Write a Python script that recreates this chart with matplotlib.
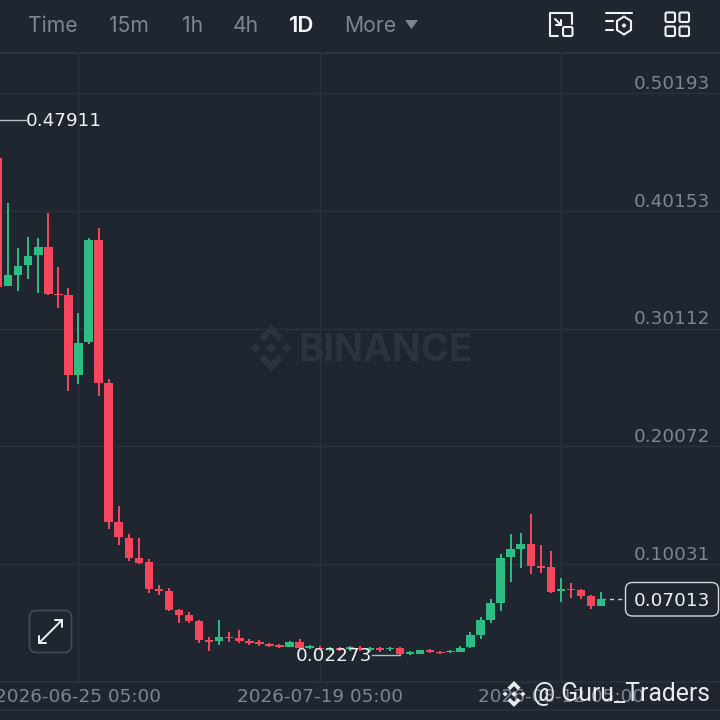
import matplotlib
matplotlib.use("Agg")
import matplotlib.pyplot as plt
import matplotlib.dates as mdates
from matplotlib.patches import FancyBboxPatch, Polygon
import pandas as pd

plt.rcParams['font.family'] = ['Inter', 'DejaVu Sans']
NUM_FONT = ['DejaVu Sans']

dates = pd.date_range('2026-06-17', periods=61)
opens = [0.4469,0.3374,0.3468,0.3554,0.3639,0.3707,0.3309,0.3298,0.2615,0.2897,0.3767,0.2550,0.1361,0.1227,0.1054,0.1020,
         0.0792,0.0773,0.0611,0.0565,0.0519,0.0355,0.0346,0.0383,0.0374,0.0346,0.0338,0.0321,0.0310,0.0298,0.0340,0.0289,
         0.0289,0.0278,0.0284,0.0278,0.0287,0.0272,0.0284,0.0278,0.0287,0.0235,0.0238,0.0267,0.0255,0.0252,0.0255,0.0292,
         0.0400,0.0523,0.0671,0.1060,0.1131,0.1174,0.0983,0.0975,0.0775,0.0792,0.0781,0.0733,0.0645]
highs = [0.4791,0.4082,0.3699,0.3795,0.3786,0.3997,0.3536,0.3357,0.3147,0.3784,0.3869,0.2581,0.1498,0.1261,0.1227,0.1046,
         0.0824,0.0796,0.0622,0.0591,0.0525,0.0383,0.0525,0.0420,0.0440,0.0366,0.0352,0.0332,0.0321,0.0349,0.0361,0.0310,
         0.0306,0.0298,0.0295,0.0301,0.0306,0.0298,0.0292,0.0298,0.0298,0.0258,0.0270,0.0275,0.0263,0.0270,0.0306,0.0423,
         0.0551,0.0702,0.1086,0.1256,0.1270,0.1430,0.1165,0.1111,0.0881,0.0838,0.0792,0.0739,0.0764]
lows = [0.3366,0.3374,0.3332,0.3434,0.3315,0.3298,0.3189,0.2481,0.2541,0.2882,0.2439,0.1302,0.1165,0.1031,0.1003,0.0758,
        0.0739,0.0602,0.0502,0.0502,0.0332,0.0261,0.0312,0.0340,0.0332,0.0312,0.0306,0.0292,0.0284,0.0295,0.0281,0.0275,
        0.0267,0.0261,0.0258,0.0263,0.0261,0.0250,0.0255,0.0263,0.0227,0.0227,0.0233,0.0247,0.0233,0.0247,0.0250,0.0284,
        0.0366,0.0502,0.0602,0.0852,0.0972,0.0915,0.0926,0.0756,0.0681,0.0710,0.0702,0.0617,0.0645]
closes = [0.3366,0.3468,0.3548,0.3633,0.3707,0.3309,0.3298,0.2615,0.2891,0.3767,0.2550,0.1361,0.1233,0.1057,0.1014,0.0792,
          0.0775,0.0611,0.0565,0.0519,0.0352,0.0338,0.0378,0.0369,0.0346,0.0329,0.0321,0.0304,0.0292,0.0338,0.0287,0.0304,
          0.0278,0.0289,0.0272,0.0292,0.0275,0.0284,0.0270,0.0289,0.0233,0.0250,0.0267,0.0255,0.0241,0.0263,0.0287,0.0400,
          0.0523,0.0668,0.1057,0.1128,0.1176,0.0986,0.0966,0.0767,0.0787,0.0779,0.0733,0.0645,0.07013]
price_ticks = [0.50193, 0.40153, 0.30112, 0.20072, 0.10031]
price_labels = ['0.50193', '0.40153', '0.30112', '0.20072', '0.10031']
date_ticks = ['2026-06-25 05:00', '2026-07-19 05:00', '2026-08-12 05:00']
date_labels = ['2026-06-25 05:00', '2026-07-19 05:00', '2026-08-12 05:00']
tabs = ['Time', '15m', '1h', '4h', '1D', 'More']
period_high = 0.47911
period_low = 0.02273
last_price = 0.07013

BG = '#1f2630'
GRID = '#2c323b'
RED = '#f6465d'
GREEN = '#2ebd85'
MUTED = '#7d8591'
WHITE = '#eef0f2'

fig = plt.figure(figsize=(7.2, 7.2), dpi=100, facecolor=BG)
ax = fig.add_axes([0, 38 / 720, 1, 629 / 720], facecolor=BG)
for s in ax.spines.values():
    s.set_visible(False)

x = mdates.date2num(dates)
x0 = mdates.date2num(pd.Timestamp('2026-06-25'))
ax.set_xlim(x0 - 78.5 / 10.05, x0 + (720 - 78.5) / 10.05)
ax.set_ylim(0.10031 - (682 - 564) / 1172.4, 0.10031 + (564 - 53) / 1172.4)

ax.set_yticks(price_ticks)
ax.set_yticklabels([])
ax.set_xticks(mdates.date2num(pd.to_datetime(date_ticks).normalize()))
ax.set_xticklabels(date_labels, color=MUTED, fontsize=13.2, family=NUM_FONT)
ax.tick_params(axis='both', length=0)
ax.tick_params(axis='x', pad=4.5)
ax.grid(True, color=GRID, lw=1)
ax.set_axisbelow(True)

for v, lab in zip(price_ticks, price_labels):
    ax.annotate(lab, xy=(1, v), xycoords=ax.get_yaxis_transform(), xytext=(-7.2, 6.6),
                textcoords='offset points', ha='right', va='center', color=MUTED, fontsize=13.2, family=NUM_FONT)

ax.text(386 / 720, (682 - 350.5) / 629, 'BINANCE', transform=ax.transAxes, ha='center', va='center',
        color='#2c333d', fontsize=27.5, fontweight='bold', zorder=1)

colors = [GREEN if c >= o else RED for o, c in zip(opens, closes)]
ax.vlines(x, lows, highs, colors=colors, lw=1.4, zorder=3)
ax.bar(x, [max(abs(c - o), 0.0012) for o, c in zip(opens, closes)], bottom=[min(o, c) for o, c in zip(opens, closes)],
       width=0.84, color=colors, lw=0, zorder=4)

ax.plot([x[-1], x0 + (625 - 78.5) / 10.05], [last_price, last_price], color='#c9ccd0', lw=1, ls=(0, (3, 3)), zorder=2)
ax.plot([x[0], x0 + (26 - 78.5) / 10.05], [period_high, period_high], color='#b9bcc1', lw=1, zorder=5)
ax.annotate(f'{period_high:.5f}', xy=(x0 + (26 - 78.5) / 10.05, period_high), xytext=(0, -0.7),
            textcoords='offset points', color=WHITE, fontsize=13.2, ha='left', va='center', zorder=6, family=NUM_FONT)
ax.plot([x[40], x0 + (372 - 78.5) / 10.05], [period_low, period_low], color='#b9bcc1', lw=1, zorder=5)
ax.annotate(f'{period_low:.5f}', xy=(x0 + (372 - 78.5) / 10.05, period_low), xytext=(0, -0.7),
            textcoords='offset points', color=WHITE, fontsize=13.2, ha='right', va='center', zorder=6, family=NUM_FONT)

ov = fig.add_axes([0, 0, 1, 1], facecolor='none')
ov.set_xlim(0, 720)
ov.set_ylim(720, 0)
ov.axis('off')

ov.plot([0, 720], [53, 53], color=GRID, lw=1.5)
ov.plot([0, 720], [682, 682], color=GRID, lw=1.2)
ov.plot([0, 720], [710, 710], color=GRID, lw=1.2)

tab_x = [52.5, 129, 192.5, 245.5, 302, 370]
for t, tx in zip(tabs, tab_x):
    active = t == '1D'
    ov.text(tx, 25.5, t, ha='center', va='center', fontsize=16 if active else 15.2, color='#f5f6f7' if active else MUTED,
            fontweight='semibold' if active else 'normal')
ov.add_patch(Polygon([(405, 20), (418, 20), (411.5, 29)], closed=True, color=MUTED, lw=0))


def stroke(xs, ys, lw=2, c=WHITE):
    ov.plot(xs, ys, color=c, lw=lw, solid_capstyle='round', solid_joinstyle='round', zorder=6)


def rbox(x_, y_, w, h, r=1.5, lw=2, ec=WHITE, fc='none', z=3):
    ov.add_patch(FancyBboxPatch((x_, y_), w, h, boxstyle=f'round,pad=0,rounding_size={r}',
                                ec=ec, fc=fc, lw=lw, zorder=z))


stroke([560, 550, 550, 558], [13, 13, 36, 36], 1.5)
stroke([560, 572, 572], [13, 13, 24], 1.5)
rbox(563, 27, 9.5, 9, lw=1.5)
stroke([555, 561], [19, 25], 1.5)
stroke([561, 561], [20, 25], 1.5)
stroke([556, 561], [25, 25], 1.5)
stroke([606, 632], [12.5, 12.5], 1.5)
stroke([606, 613], [21, 21], 1.5)
stroke([606, 613], [30, 30], 1.5)
ov.add_patch(Polygon([(624, 16.5), (631, 21), (631, 30), (624, 34.5), (617, 30), (617, 21)], closed=True,
                     ec=WHITE, fc='none', lw=1.5))
ov.add_patch(Polygon([(624, 23), (626.5, 25.5), (624, 28), (621.5, 25.5)], closed=True, color=WHITE, lw=0))
for ix in (665.5, 679.5):
    for iy in (12.5, 26.5):
        rbox(ix, iy, 9.5, 9.5, r=1.5, lw=1.5)

rbox(29.5, 610.5, 42, 42, r=7, lw=1.2, ec='#464c55', fc='#1f2630')
stroke([39, 62], [643, 620], 1.4)
stroke([55, 62, 62], [620, 620, 627], 1.4)
stroke([39, 39, 46], [636, 643, 643], 1.4)

rbox(625.5, 582.5, 93, 33.5, r=7, lw=1, ec='#d5d7da', fc=BG)
ov.text(672, 600.5, f'{last_price:.5f}', ha='center', va='center', color=WHITE, fontsize=13.2, family=NUM_FONT, zorder=6)


def logo(cx, cy, s, color, z=8):
    a = s
    for dx, dy, r in [(0, 0, 0.22 * a), (-0.68 * a, 0, 0.2 * a), (0.68 * a, 0, 0.2 * a)]:
        ov.add_patch(Polygon([(cx + dx, cy + dy - r), (cx + dx + r, cy + dy), (cx + dx, cy + dy + r),
                              (cx + dx - r, cy + dy)], closed=True, color=color, lw=0, zorder=z))
    for sgn in (-1, 1):
        ov.add_patch(Polygon([(cx - 0.5 * a, cy + sgn * 0.5 * a), (cx, cy + sgn * 1.0 * a), (cx + 0.5 * a, cy + sgn * 0.5 * a),
                              (cx + 0.3 * a, cy + sgn * 0.3 * a), (cx, cy + sgn * 0.6 * a), (cx - 0.3 * a, cy + sgn * 0.3 * a)],
                             closed=True, color=color, lw=0, zorder=z))


logo(271, 348, 23, '#2c333d', z=1)
logo(514, 694, 13, '#e8eaec')
ov.text(533, 694, '@ Guru_Traders', ha='left', va='center', color='#e8eaec', fontsize=17.8, zorder=8,
        family=['Roboto', 'DejaVu Sans'])

fig.savefig('out.png', dpi=100, facecolor=BG)
